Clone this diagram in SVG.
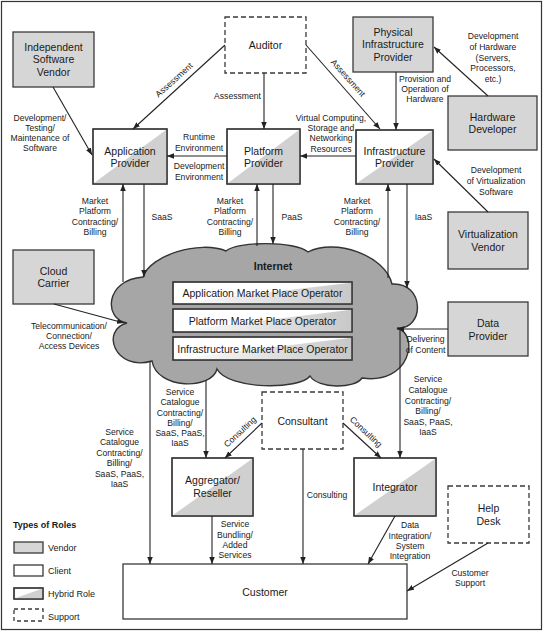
<svg xmlns="http://www.w3.org/2000/svg" width="544" height="632" viewBox="0 0 544 632">
<defs>
<marker id="ah" markerUnits="userSpaceOnUse" markerWidth="8" markerHeight="6" refX="7" refY="2.75" orient="auto">
<path d="M0,0 L7,2.75 L0,5.5 z" fill="#222"/>
</marker>
<linearGradient id="mpg" x1="0" y1="0" x2="1" y2="0">
<stop offset="0" stop-color="#ffffff"/>
<stop offset="1" stop-color="#c8c8c8"/>
</linearGradient>
</defs>
<style>
.box{stroke:#3a3a3a;stroke-width:1.3}
.vendor{fill:#d6d6d6}
.client{fill:#ffffff}
.support{fill:#ffffff;stroke-dasharray:5,3}
.tri{fill:#d0d0d0;stroke:none}
.tri2{fill:url(#mpg);stroke:none}
.n{font-family:"Liberation Sans",Arial,sans-serif;font-size:10.5px;fill:#1a1a1a;text-anchor:middle}
.l{font-family:"Liberation Sans",Arial,sans-serif;font-size:8.6px;fill:#1a1a1a;text-anchor:middle}
.lg{font-family:"Liberation Sans",Arial,sans-serif;font-size:9px;fill:#1a1a1a}
.b{font-weight:bold}
.c line,.c path{stroke:#222;stroke-width:1.1;fill:none;marker-end:url(#ah)}
</style>
<rect x="1.5" y="1.5" width="540" height="628" fill="#ffffff" stroke="#333" stroke-width="1.2"/>

<g id="cloud">
<path d="M127 323 C104 320,104 280,143 277 C150 255,200 240,226 251 C238 241,295 241,308 252 C335 238,385 255,392 284 C425 282,425 330,397 328 C420 335,410 385,362 378 C355 389,318 389,310 376 C300 390,228 390,217 369 C212 390,157 390,152 361 C115 372,100 330,127 323 Z" fill="#a6a6a6" stroke="#333" stroke-width="1.4"/>
<text class="n b" x="273" y="270" font-size="11">Internet</text>
</g>
<g id="app-mpo">
<rect class="box client" x="173" y="282" width="179" height="22"/>
<polygon class="tri2" points="174,303.3 351.3,282.7 351.3,303.3"/>
<rect x="173" y="282" width="179" height="22" fill="none" stroke="#3a3a3a" stroke-width="1.3"/>
<text class="n" x="262.5" y="296.7">Application Market Place Operator</text>
</g>
<g id="platform-mpo">
<rect class="box client" x="173" y="309" width="179" height="23"/>
<polygon class="tri2" points="174,331.3 351.3,309.7 351.3,331.3"/>
<rect x="173" y="309" width="179" height="23" fill="none" stroke="#3a3a3a" stroke-width="1.3"/>
<text class="n" x="262.5" y="324.7">Platform Market Place Operator</text>
</g>
<g id="infra-mpo">
<rect class="box client" x="173" y="337" width="179" height="23"/>
<polygon class="tri2" points="174,359.3 351.3,337.7 351.3,359.3"/>
<rect x="173" y="337" width="179" height="23" fill="none" stroke="#3a3a3a" stroke-width="1.3"/>
<text class="n" x="262.5" y="352.7">Infrastructure Market Place Operator</text>
</g>

<g id="isv">
<rect class="box vendor" x="13" y="32" width="81" height="55"/>
<text class="n" x="53.5" y="50.7">Independent</text>
<text class="n" x="53.5" y="63.2">Software</text>
<text class="n" x="53.5" y="75.7">Vendor</text>
</g>
<g id="auditor">
<rect class="box support" x="225" y="17" width="81" height="56"/>
<text class="n" x="265.5" y="48.7">Auditor</text>
</g>
<g id="physical-infra">
<rect class="box vendor" x="353" y="17" width="80" height="55"/>
<text class="n" x="393" y="35.7">Physical</text>
<text class="n" x="393" y="48.2">Infrastructure</text>
<text class="n" x="393" y="60.7">Provider</text>
</g>
<g id="hardware-dev">
<rect class="box vendor" x="448" y="96" width="89" height="54"/>
<text class="n" x="492.5" y="120.7">Hardware</text>
<text class="n" x="492.5" y="133">Developer</text>
</g>
<g id="app-provider">
<rect class="box client" x="93" y="129" width="74" height="55"/>
<polygon class="tri" points="93.7,183.3 166.3,129.7 166.3,183.3"/>
<rect x="93" y="129" width="74" height="55" fill="none" stroke="#3a3a3a" stroke-width="1.3"/>
<text class="n" x="130" y="154.5">Application</text>
<text class="n" x="130" y="167">Provider</text>
</g>
<g id="platform-provider">
<rect class="box client" x="227" y="129" width="73" height="55"/>
<polygon class="tri" points="227.7,183.3 299.3,129.7 299.3,183.3"/>
<rect x="227" y="129" width="73" height="55" fill="none" stroke="#3a3a3a" stroke-width="1.3"/>
<text class="n" x="263.5" y="154.5">Platform</text>
<text class="n" x="263.5" y="167">Provider</text>
</g>
<g id="infra-provider">
<rect class="box client" x="356" y="130" width="77" height="54"/>
<polygon class="tri" points="356.7,183.3 432.3,130.7 432.3,183.3"/>
<rect x="356" y="130" width="77" height="54" fill="none" stroke="#3a3a3a" stroke-width="1.3"/>
<text class="n" x="394.5" y="154.5">Infrastructure</text>
<text class="n" x="394.5" y="167">Provider</text>
</g>
<g id="virtualization-vendor">
<rect class="box vendor" x="448" y="212" width="80" height="57"/>
<text class="n" x="488" y="237.7">Virtualization</text>
<text class="n" x="488" y="250.5">Vendor</text>
</g>
<g id="cloud-carrier">
<rect class="box vendor" x="13" y="250" width="81" height="54"/>
<text class="n" x="53.5" y="274.7">Cloud</text>
<text class="n" x="53.5" y="287">Carrier</text>
</g>
<g id="data-provider">
<rect class="box vendor" x="448" y="302" width="80" height="54"/>
<text class="n" x="488" y="326.7">Data</text>
<text class="n" x="488" y="339.5">Provider</text>
</g>
<g id="consultant">
<rect class="box support" x="262" y="392" width="81" height="57"/>
<text class="n" x="302.5" y="424.7">Consultant</text>
</g>
<g id="aggregator">
<rect class="box client" x="172" y="458" width="81" height="58"/>
<polygon class="tri" points="172.7,515.3 252.3,458.7 252.3,515.3"/>
<rect x="172" y="458" width="81" height="58" fill="none" stroke="#3a3a3a" stroke-width="1.3"/>
<text class="n" x="212.5" y="483.7">Aggregator/</text>
<text class="n" x="212.5" y="496.7">Reseller</text>
</g>
<g id="integrator">
<rect class="box client" x="354" y="458" width="82" height="58"/>
<polygon class="tri" points="354.7,515.3 435.3,458.7 435.3,515.3"/>
<rect x="354" y="458" width="82" height="58" fill="none" stroke="#3a3a3a" stroke-width="1.3"/>
<text class="n" x="395" y="490.7">Integrator</text>
</g>
<g id="help-desk">
<rect class="box support" x="448" y="486" width="81" height="57"/>
<text class="n" x="488.5" y="511.7">Help</text>
<text class="n" x="488.5" y="524.7">Desk</text>
</g>
<g id="customer">
<rect class="box client" x="123" y="564" width="284" height="55"/>
<text class="n" x="265" y="595.7">Customer</text>
</g>

<g id="legend">
<text class="lg b" x="13" y="527.5">Types of Roles</text>
<rect class="box vendor" x="14" y="542" width="29" height="11"/>
<text class="lg" x="48" y="550.5">Vendor</text>
<rect class="box client" x="14" y="565" width="29" height="11"/>
<text class="lg" x="48" y="573.5">Client</text>
<rect class="box client" x="14" y="588" width="29" height="11"/>
<polygon class="tri" points="14.6,598.4 42.4,588.6 42.4,598.4"/>
<rect x="14" y="588" width="29" height="11" fill="none" stroke="#3a3a3a" stroke-width="1.3"/>
<text class="lg" x="48" y="597">Hybrid Role</text>
<rect class="box support" x="14" y="609" width="29" height="12" style="stroke-dasharray:4,3"/>
<text class="lg" x="48" y="620">Support</text>
</g>

<g id="connectors" class="c">
<line x1="53" y1="87" x2="92" y2="155"/>
<line x1="225" y1="45" x2="133" y2="129"/>
<line x1="264" y1="73" x2="264" y2="129"/>
<line x1="306" y1="45" x2="380" y2="129"/>
<line x1="396" y1="72" x2="396" y2="130"/>
<line x1="488" y1="96" x2="434" y2="47"/>
<line x1="488" y1="212" x2="434" y2="159"/>
<line x1="227" y1="156" x2="167" y2="156"/>
<line x1="356" y1="156" x2="300" y2="156"/>
<line x1="123" y1="282" x2="123" y2="184"/>
<line x1="144" y1="184" x2="144" y2="277"/>
<line x1="257" y1="246" x2="257" y2="184"/>
<line x1="273" y1="184" x2="273" y2="244"/>
<line x1="388" y1="278" x2="388" y2="184"/>
<line x1="407" y1="184" x2="407" y2="288"/>
<line x1="54" y1="304" x2="124" y2="323"/>
<line x1="448" y1="329" x2="397" y2="329"/>
<line x1="400" y1="330" x2="400" y2="458"/>
<line x1="206" y1="380" x2="206" y2="458"/>
<line x1="150" y1="361" x2="150" y2="564"/>
<line x1="262" y1="423" x2="225" y2="458"/>
<line x1="343" y1="423" x2="381" y2="458"/>
<line x1="303" y1="449" x2="303" y2="564"/>
<line x1="212" y1="516" x2="212" y2="564"/>
<line x1="395" y1="516" x2="368" y2="564"/>
<line x1="488" y1="543" x2="407" y2="591"/>
</g>

<g id="labels">
<text class="l" x="40" y="121">Development/</text>
<text class="l" x="40" y="131">Testing/</text>
<text class="l" x="40" y="141">Maintenance of</text>
<text class="l" x="40" y="151">Software</text>
<text class="l" transform="translate(176,82) rotate(-42)">Assessment</text>
<text class="l" x="237.5" y="99">Assessment</text>
<text class="l" transform="translate(346,80) rotate(48)">Assessment</text>
<text class="l" x="425" y="82">Provision and</text>
<text class="l" x="425" y="92">Operation of</text>
<text class="l" x="425" y="102">Hardware</text>
<text class="l" x="493" y="39">Development</text>
<text class="l" x="493" y="50">of Hardware</text>
<text class="l" x="493" y="60.5">(Servers,</text>
<text class="l" x="493" y="71">Processors,</text>
<text class="l" x="493" y="82">etc.)</text>
<text class="l" x="199" y="140">Runtime</text>
<text class="l" x="199" y="151">Environment</text>
<text class="l" x="199" y="169">Development</text>
<text class="l" x="199" y="180">Environment</text>
<text class="l" x="331" y="121">Virtual Computing,</text>
<text class="l" x="331" y="131">Storage and</text>
<text class="l" x="331" y="141">Networking</text>
<text class="l" x="331" y="152">Resources</text>
<text class="l" x="496" y="173">Development</text>
<text class="l" x="496" y="184">of Virtualization</text>
<text class="l" x="496" y="195">Software</text>
<text class="l" x="95" y="204">Market</text>
<text class="l" x="95" y="214">Platform</text>
<text class="l" x="95" y="224.5">Contracting/</text>
<text class="l" x="95" y="235">Billing</text>
<text class="l" x="162" y="220">SaaS</text>
<text class="l" x="230" y="204">Market</text>
<text class="l" x="230" y="214">Platform</text>
<text class="l" x="230" y="224.5">Contracting/</text>
<text class="l" x="230" y="235">Billing</text>
<text class="l" x="292" y="220">PaaS</text>
<text class="l" x="357" y="204">Market</text>
<text class="l" x="357" y="214">Platform</text>
<text class="l" x="357" y="224.5">Contracting/</text>
<text class="l" x="357" y="235">Billing</text>
<text class="l" x="423.5" y="219.5">IaaS</text>
<text class="l" x="69" y="329">Telecommunication/</text>
<text class="l" x="69" y="339">Connection/</text>
<text class="l" x="69" y="349">Access Devices</text>
<text class="l" x="425.5" y="342">Delivering</text>
<text class="l" x="425.5" y="353">of Content</text>
<text class="l" x="428" y="382">Service</text>
<text class="l" x="428" y="393">Catalogue</text>
<text class="l" x="428" y="404">Contracting/</text>
<text class="l" x="428" y="414">Billing/</text>
<text class="l" x="428" y="425">SaaS, PaaS,</text>
<text class="l" x="428" y="435">IaaS</text>
<text class="l" x="180" y="395">Service</text>
<text class="l" x="180" y="405">Catalogue</text>
<text class="l" x="180" y="416">Contracting/</text>
<text class="l" x="180" y="426">Billing/</text>
<text class="l" x="180" y="436">SaaS, PaaS,</text>
<text class="l" x="180" y="446">IaaS</text>
<text class="l" x="119.5" y="435">Service</text>
<text class="l" x="119.5" y="445">Catalogue</text>
<text class="l" x="119.5" y="456">Contracting/</text>
<text class="l" x="119.5" y="466">Billing/</text>
<text class="l" x="119.5" y="477">SaaS, PaaS,</text>
<text class="l" x="119.5" y="487">IaaS</text>
<text class="l" transform="translate(242,434) rotate(-43)">Consulting</text>
<text class="l" transform="translate(364,434) rotate(43)">Consulting</text>
<text class="l" x="327" y="498">Consulting</text>
<text class="l" x="235" y="527">Service</text>
<text class="l" x="235" y="538">Bundling/</text>
<text class="l" x="235" y="548">Added</text>
<text class="l" x="235" y="558">Services</text>
<text class="l" x="410" y="528">Data</text>
<text class="l" x="410" y="539">Integration/</text>
<text class="l" x="410" y="549">System</text>
<text class="l" x="410" y="559">Integration</text>
<text class="l" x="470" y="576">Customer</text>
<text class="l" x="470" y="586">Support</text>
</g>
</svg>
